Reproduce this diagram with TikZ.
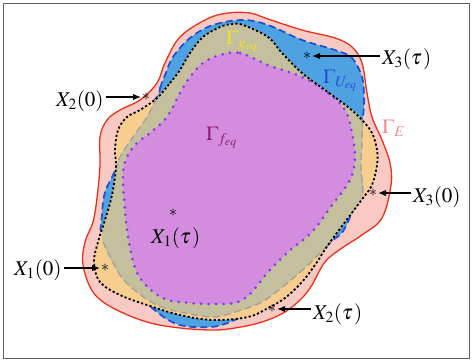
\documentclass[tikz,border=0pt]{standalone}
\usepackage{mathptmx}
\usetikzlibrary{arrows.meta}
\definecolor{framecol}{HTML}{5E5E5E}
\definecolor{redfill}{HTML}{F9CAC3}
\definecolor{redline}{HTML}{E8321E}
\definecolor{bluefill}{HTML}{4EA2E2}
\definecolor{blueline}{HTML}{1E4FD2}
\definecolor{orangefill}{HTML}{F8CE90}
\definecolor{olivefill}{HTML}{C4BF9C}
\definecolor{grayline}{HTML}{A8A0A0}
\definecolor{purplefill}{HTML}{D48CDF}
\definecolor{purpleline}{HTML}{7E3EEA}
\definecolor{gyellow}{HTML}{F2E42A}
\definecolor{gblue}{HTML}{1F50D0}
\definecolor{gsalmon}{HTML}{F08A88}
\definecolor{gmagenta}{HTML}{8E1A6E}
\begin{document}
\begin{tikzpicture}[x=1pt,y=-1pt,
  lbl/.style={font=\fontsize{21}{23}\selectfont, inner sep=0pt, anchor=base west},
  glbl/.style={font=\fontsize{20}{22}\selectfont, inner sep=0pt, anchor=base west},
  starmark/.style={font=\fontsize{16}{16}\selectfont, inner sep=0.3pt},
  arr/.style={-{Latex[length=8pt,width=6.5pt]}, line width=1.4pt, shorten >=0.5pt, shorten <=2pt},
  sm/.style={smooth cycle, tension=0.6}]
\useasboundingbox (0,0) rectangle (474,362);
\draw[framecol, line width=1.6pt] (3.5,3.5) rectangle (469.5,358.5);
% Gamma_E
\filldraw[fill=redfill, draw=redline, line width=1.3pt] plot[sm] coordinates {
 (207,19) (228,13) (250,13) (268,19) (302,30) (335,38) (352,47) (362,63) (367,93) (372,117)
 (382,140) (390,163) (391,185) (382,218) (362,235) (342,248) (325,262) (312,285) (302,298)
 (285,312) (262,322) (235,328) (213,330) (180,328) (147,322) (113,308) (93,292) (83,265)
 (85,242) (93,222) (97,198) (100,165) (100,137) (107,120) (120,110) (140,100) (157,83)
 (165,63) (180,37)};
% Gamma_Ueq
\filldraw[fill=bluefill, draw=blueline, line width=1.7pt, dash pattern=on 7pt off 4pt] plot[sm] coordinates {
 (157,97) (160,88) (165,75) (173,57) (190,38) (213,25) (243,20) (268,25) (302,40) (335,50)
 (352,58) (362,77) (364,97) (363,117) (358,150) (360,185) (345,228) (328,245) (290,288)
 (258,308) (230,322) (210,327) (180,325) (157,312) (130,285) (103,240) (102,215) (105,192) (113,175)
 (135,125)};
% orange region (black dotted boundary)
\fill[orangefill] plot[sm] coordinates {
 (157,98) (170,83) (180,70) (190,53) (203,37) (220,27) (232,24) (243,25) (268,37) (282,53)
 (302,73) (325,90) (348,107) (362,120) (372,133) (377,150) (377,165) (372,185) (363,198)
 (345,222) (328,245) (315,265) (302,282) (285,298) (268,308) (248,317) (213,320) (180,315)
 (147,305) (120,295) (100,282) (94,262) (98,242) (105,220) (112,195) (116,167) (115,150)
 (118,130) (127,117) (140,110)};
% Gamma_geq
\fill[olivefill] plot[sm] coordinates {
 (362,120) (362,143) (361,167) (363,195) (345,222) (328,245) (308,265) (285,285) (262,302)
 (235,312) (213,317) (180,312) (157,305) (137,292) (120,275) (103,242) (105,220) (112,195)
 (115,175) (120,157) (133,137) (147,117) (157,98) (170,83) (180,70) (190,53) (203,37)
 (220,27) (232,24) (243,25) (268,37) (282,53) (302,73) (325,90) (348,107)};
\begin{scope}[grayline, line width=1.4pt, dash pattern=on 7pt off 4pt]
\draw plot[smooth, tension=0.6] coordinates {(362,120) (362,143) (361,167) (363,195)};
\draw plot[smooth, tension=0.6] coordinates {(328,245) (308,265) (285,285) (262,302)
 (235,312) (213,317) (180,312) (157,305) (137,292) (120,275) (103,242)};
\draw plot[smooth, tension=0.6] coordinates {(157,98) (147,117) (133,137) (120,157) (115,175)};
\end{scope}
% Gamma_feq
\fill[purplefill] plot[sm] coordinates {
 (220,55) (240,53) (268,65) (302,77) (328,93) (345,110) (352,133) (355,157) (352,175)
 (345,188) (332,205) (312,232) (288,252) (268,272) (252,292) (238,302) (220,304) (190,303)
 (163,298) (140,278) (130,248) (125,210) (123,175) (127,157) (137,143) (150,133) (167,117)
 (180,93) (190,77) (203,63)};
\draw[purpleline, line width=3pt, line cap=round, dash pattern=on 0pt off 7.5pt] plot[sm] coordinates {
 (220,55) (240,53) (268,65) (302,77) (328,93) (345,110) (352,133) (355,157) (352,175)
 (345,188) (332,205) (312,232) (288,252) (268,272) (252,292) (238,302) (220,304) (190,303)
 (163,298) (140,278) (130,248) (125,210) (123,175) (127,157) (137,143) (150,133) (167,117)
 (180,93) (190,77) (203,63)};
% black dotted
\draw[black, line width=1.8pt, dash pattern=on 2.2pt off 2.2pt] plot[sm] coordinates {
 (157,98) (170,83) (180,70) (190,53) (203,37) (220,27) (232,24) (243,25) (268,37) (282,53)
 (302,73) (325,90) (348,107) (362,120) (372,133) (377,150) (377,165) (372,185) (363,198)
 (345,222) (328,245) (315,265) (302,282) (285,298) (268,308) (248,317) (213,320) (180,315)
 (147,305) (120,295) (100,282) (94,262) (98,242) (105,220) (112,195) (116,167) (115,150)
 (118,130) (127,117) (140,110)};
% region labels
\node[glbl, text=gyellow] (ggeq) at (226,44) {$\Gamma_{g_{eq}}$};
\node[glbl, text=gblue] (gueq) at (323,83) {$\Gamma_{U_{eq}}$};
\node[glbl, text=gsalmon] (ge) at (382,133) {$\Gamma_{E}$};
\node[glbl, text=gmagenta] (gfeq) at (206,140) {$\Gamma_{f_{eq}}$};
% stars
\node[starmark] (s3t) at (307,56) {$\ast$};
\node[starmark] (s20) at (146,97) {$\ast$};
\node[starmark] (s30) at (373,193) {$\ast$};
\node[starmark] (s10) at (105,268) {$\ast$};
\node[starmark] (s2t) at (272,309) {$\ast$};
\node[starmark] (s1t) at (173,213) {$\ast$};
% point labels
\node[lbl] (l3t) at (382,64) {$X_3(\tau\mkern1mu)$};
\node[lbl] (l20) at (56,106) {$X_2(0)$};
\node[lbl] (l30) at (413,202) {$X_3(0)$};
\node[lbl] (l10) at (14,275) {$X_1(0)$};
\node[lbl] (l2t) at (313,319) {$X_2(\tau\mkern1mu)$};
\node[lbl] (l1t) at (151,243) {$X_1(\tau\mkern1mu)$};
% arrows
\draw[arr] (l3t.west |- s3t) -- (s3t.east);
\draw[arr] (l20.east |- s20) -- (s20.west);
\draw[arr] (l30.west |- s30) -- (s30.east);
\draw[arr] (l10.east |- s10) -- (s10.west);
\draw[arr] (l2t.west |- s2t) -- (s2t.east);
\end{tikzpicture}
\end{document}
